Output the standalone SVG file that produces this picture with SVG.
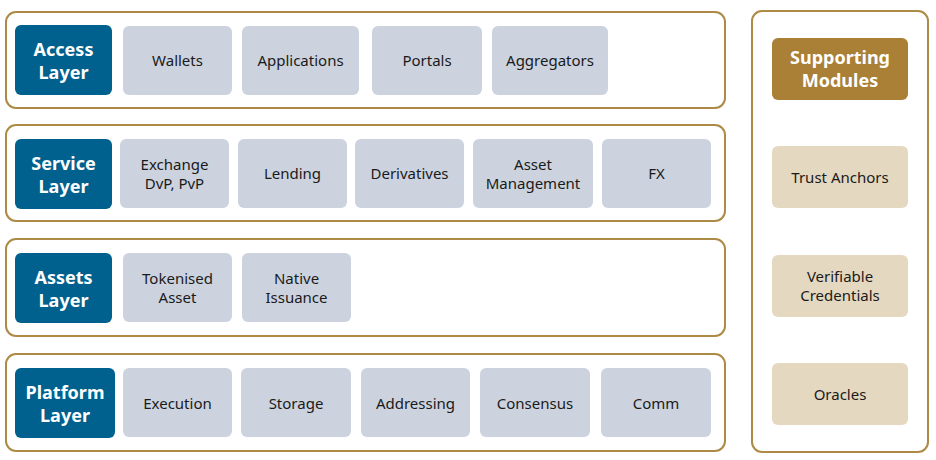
<svg xmlns="http://www.w3.org/2000/svg" width="936" height="460" viewBox="0 0 936 460">
<style>
.c{fill:#fff;stroke:#ad8a45;stroke-width:2}
.h{fill:#00618e}
.i{fill:#ccd3df}
.g{fill:#a98035}
.b{fill:#e5d8c0}
text{font-family:"Noto Sans","Liberation Sans",sans-serif;text-anchor:middle}
.ht{fill:#fff;font-size:18px;font-weight:bold}
.it{fill:#1a1a1a;font-size:15px}
</style>
<rect width="936" height="460" fill="#fff"/>
<g id="containers">
<rect class="c" x="6" y="12" width="719" height="96" rx="10"/>
<rect class="c" x="6" y="125" width="719" height="96" rx="10"/>
<rect class="c" x="6" y="239" width="719" height="97" rx="10"/>
<rect class="c" x="6" y="354" width="719" height="97" rx="10"/>
<rect class="c" x="752" y="11" width="176" height="441" rx="10"/>
</g>
<g id="access">
<rect class="h" x="15" y="25" width="97" height="70" rx="6"/><text class="ht" x="63.5" y="56">Access</text><text class="ht" x="63.5" y="79">Layer</text>
<rect class="i" x="123" y="26" width="109" height="69" rx="6"/><text class="it" x="177.5" y="66">Wallets</text>
<rect class="i" x="242" y="26" width="117" height="69" rx="6"/><text class="it" x="300.5" y="66">Applications</text>
<rect class="i" x="372" y="26" width="110" height="69" rx="6"/><text class="it" x="427" y="66">Portals</text>
<rect class="i" x="492" y="26" width="116" height="69" rx="6"/><text class="it" x="550" y="66">Aggregators</text>
</g>
<g id="service">
<rect class="h" x="15" y="139" width="97" height="70" rx="6"/><text class="ht" x="63.5" y="170">Service</text><text class="ht" x="63.5" y="193">Layer</text>
<rect class="i" x="120" y="139" width="109" height="69" rx="6"/><text class="it" x="174.5" y="170">Exchange</text><text class="it" x="174.5" y="189">DvP, PvP</text>
<rect class="i" x="238" y="139" width="109" height="69" rx="6"/><text class="it" x="292.5" y="179">Lending</text>
<rect class="i" x="355" y="139" width="109" height="69" rx="6"/><text class="it" x="409.5" y="179">Derivatives</text>
<rect class="i" x="473" y="139" width="120" height="69" rx="6"/><text class="it" x="533" y="170">Asset</text><text class="it" x="533" y="189">Management</text>
<rect class="i" x="602" y="139" width="109" height="69" rx="6"/><text class="it" x="656.5" y="179">FX</text>
</g>
<g id="assets">
<rect class="h" x="15" y="253" width="97" height="70" rx="6"/><text class="ht" x="63.5" y="284">Assets</text><text class="ht" x="63.5" y="307">Layer</text>
<rect class="i" x="123" y="253" width="109" height="69" rx="6"/><text class="it" x="177.5" y="284">Tokenised</text><text class="it" x="177.5" y="303">Asset</text>
<rect class="i" x="242" y="253" width="109" height="69" rx="6"/><text class="it" x="296.5" y="284">Native</text><text class="it" x="296.5" y="303">Issuance</text>
</g>
<g id="platform">
<rect class="h" x="15" y="368" width="100" height="70" rx="6"/><text class="ht" x="65" y="399">Platform</text><text class="ht" x="65" y="422">Layer</text>
<rect class="i" x="123" y="368" width="109" height="69" rx="6"/><text class="it" x="177.5" y="409">Execution</text>
<rect class="i" x="241" y="368" width="110" height="69" rx="6"/><text class="it" x="296" y="409">Storage</text>
<rect class="i" x="361" y="368" width="109" height="69" rx="6"/><text class="it" x="415.5" y="409">Addressing</text>
<rect class="i" x="480" y="368" width="110" height="69" rx="6"/><text class="it" x="535" y="409">Consensus</text>
<rect class="i" x="601" y="368" width="110" height="69" rx="6"/><text class="it" x="656" y="409">Comm</text>
</g>
<g id="supporting">
<rect class="g" x="772" y="38" width="136" height="62" rx="6"/><text class="ht" x="840" y="64">Supporting</text><text class="ht" x="840" y="87">Modules</text>
<rect class="b" x="772" y="146" width="136" height="62" rx="6"/><text class="it" x="840" y="183">Trust Anchors</text>
<rect class="b" x="772" y="255" width="136" height="62" rx="6"/><text class="it" x="840" y="282">Verifiable</text><text class="it" x="840" y="301">Credentials</text>
<rect class="b" x="772" y="363" width="136" height="62" rx="6"/><text class="it" x="840" y="400">Oracles</text>
</g>
<g id="connectors"/>
</svg>
